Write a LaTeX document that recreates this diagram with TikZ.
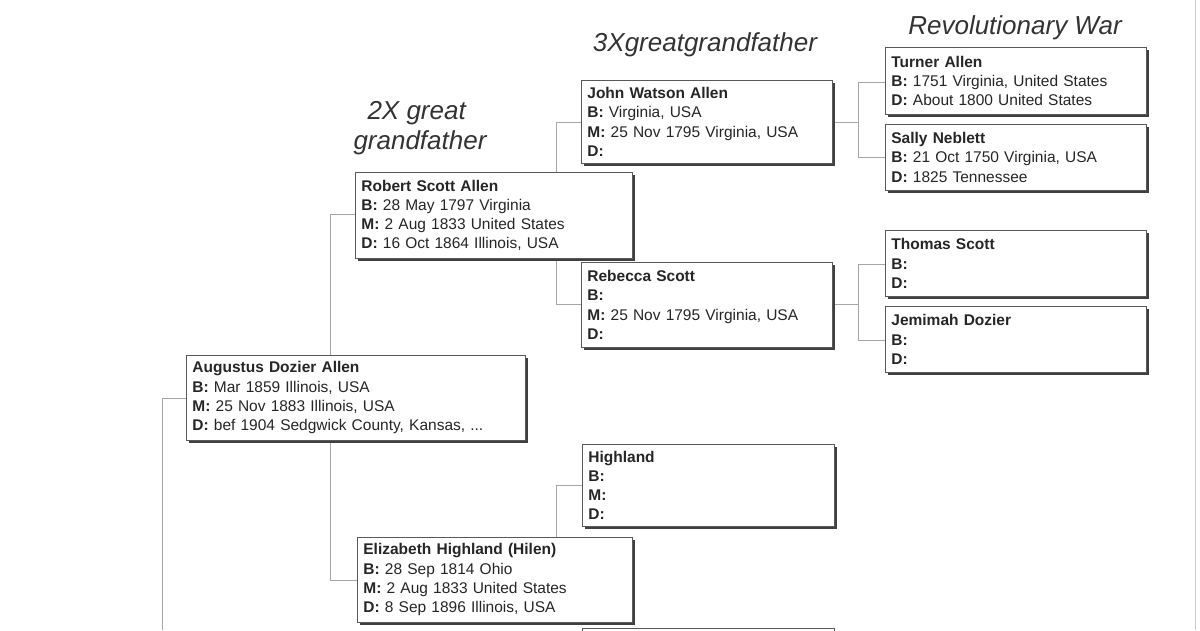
\documentclass[tikz,border=0pt]{standalone}
\usepackage{fontspec}
\setmainfont{Liberation Sans}
\usetikzlibrary{shadows}
\begin{document}
\begin{tikzpicture}[x=1pt,y=-1pt,
  pbox/.style={draw=gray!70!black,line width=0.8pt,fill=white,anchor=north west,
    drop shadow={shadow xshift=2.5pt,shadow yshift=-2.5pt,fill=black!75,opacity=1},
    inner sep=0pt,align=left,font=\fontsize{15.5}{19.3}\selectfont,text=black!85},
  conn/.style={draw=gray!70,line width=0.7pt},
  hand/.style={font=\fontsize{26}{30}\selectfont\itshape,text=black!80,align=left}]
\useasboundingbox (0,0) rectangle (1200,630);
\fill[white] (0,0) rectangle (1200,630);
\newcommand{\pb}[6]{% name x1 y1 x2 y2 text
  \node[pbox,minimum width={#4-#2},minimum height={#5-#3},text width={#4-#2-12}] (#1) at (#2,#3) {\hspace*{0pt}#6};}
% connectors (drawn first)
\coordinate (lb) at (162,630);
\draw[conn] (186,398) -- (162,398) -- (lb);
\draw[conn] (330,355) -- (330,214) -- (355,214);
\draw[conn] (330,440) -- (330,580) -- (357,580);
\draw[conn] (556,172) -- (556,122) -- (581,122);
\draw[conn] (556,258) -- (556,304) -- (581,304);
\draw[conn] (556,537) -- (556,485) -- (582,485);
\draw[conn] (832,122) -- (858,122) (858,82) -- (858,157) (858,82) -- (885,82) (858,157) -- (885,157);
\draw[conn] (832,304) -- (858,304) (858,264) -- (858,340) (858,264) -- (885,264) (858,340) -- (885,340);
\draw[gray!40,line width=0.6pt] (1195,0) -- (1195,630);
% boxes
\pb{aug}{186}{355}{525}{440}{\textbf{Augustus Dozier Allen}\\ \textbf{B:} Mar 1859 Illinois, USA\\ \textbf{M:} 25 Nov 1883 Illinois, USA\\ \textbf{D:} bef 1904 Sedgwick County, Kansas, ...}
\pb{rob}{355}{172}{632}{258}{\textbf{Robert Scott Allen}\\ \textbf{B:} 28 May 1797 Virginia\\ \textbf{M:} 2 Aug 1833 United States\\ \textbf{D:} 16 Oct 1864 Illinois, USA}
\pb{eli}{357}{537}{632}{622}{\textbf{Elizabeth Highland (Hilen)}\\ \textbf{B:} 28 Sep 1814 Ohio\\ \textbf{M:} 2 Aug 1833 United States\\ \textbf{D:} 8 Sep 1896 Illinois, USA}
\pb{john}{581}{80}{832}{163}{\textbf{John Watson Allen}\\ \textbf{B:} Virginia, USA\\ \textbf{M:} 25 Nov 1795 Virginia, USA\\ \textbf{D:}}
\pb{reb}{581}{262}{832}{347}{\textbf{Rebecca Scott}\\ \textbf{B:}\\ \textbf{M:} 25 Nov 1795 Virginia, USA\\ \textbf{D:}}
\pb{high}{582}{444}{834}{526}{\textbf{Highland}\\ \textbf{B:}\\ \textbf{M:}\\ \textbf{D:}}
\draw[draw=gray!70!black,line width=0.8pt] (582,640) -- (582,628) -- (834,628) -- (834,640);
\pb{turn}{885}{47}{1146}{114}{\textbf{Turner Allen}\\ \textbf{B:} 1751 Virginia, United States\\ \textbf{D:} About 1800 United States}
\pb{sal}{885}{124}{1146}{190}{\textbf{Sally Neblett}\\ \textbf{B:} 21 Oct 1750 Virginia, USA\\ \textbf{D:} 1825 Tennessee}
\pb{tho}{885}{230}{1146}{296}{\textbf{Thomas Scott}\\ \textbf{B:}\\ \textbf{D:}}
\pb{jem}{885}{306}{1146}{372}{\textbf{Jemimah Dozier}\\ \textbf{B:}\\ \textbf{D:}}
% handwritten notes
\node[hand] (h1) at (420,128) {\hspace*{14pt}2X great\\grandfather};
\node[hand] (h2) at (705,45) {3Xgreatgrandfather};
\node[hand] (h3) at (1015,28) {Revolutionary War};
\end{tikzpicture}
\end{document}
